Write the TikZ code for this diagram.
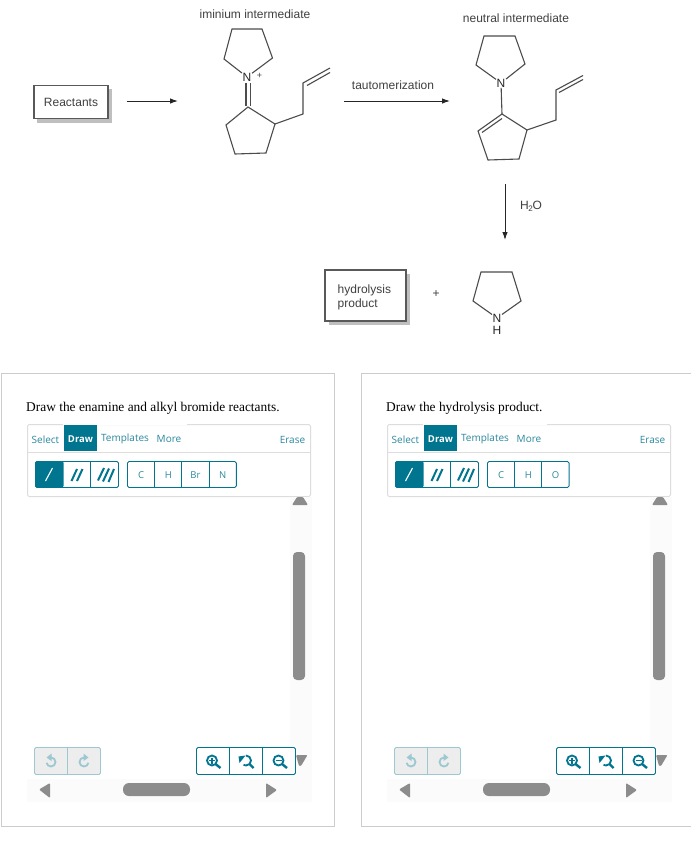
\documentclass[tikz,border=0pt]{standalone}
\usepackage{fontspec}
\setmainfont{Liberation Serif}
\newfontfamily\labelfont{Liberation Sans}
\newfontfamily\uifont{Open Sans}
\usetikzlibrary{arrows.meta}
\definecolor{teal}{HTML}{00758F}
\definecolor{tealtext}{HTML}{2A889F}
\definecolor{paleteal}{HTML}{9CC8D2}
\definecolor{panelgray}{HTML}{CCCCCC}
\definecolor{barline}{HTML}{DDDDDD}
\definecolor{scrollgray}{HTML}{8C8C8C}
\tikzset{
    bond/.style={line width=1.1pt,color=black!70},
    rxnarrow/.style={line width=1pt,color=black!85,-{Latex[length=8pt,width=5.5pt]}},
    chemlabel/.style={font=\labelfont\fontsize{12}{14}\selectfont,text=black!75,inner sep=0},
    atom/.style={font=\labelfont\fontsize{12}{12}\selectfont,text=black!85,inner sep=0.5pt},
    answerbox/.style={draw=black!65,line width=1.1pt,fill=white,inner sep=0},
    boxshadow/.style={fill=black!25,draw=none},
    tablabel/.style={font=\uifont\fontsize{10}{12}\selectfont,text=tealtext,inner sep=0},
    atomlabel/.style={font=\uifont\fontsize{9.5}{11}\selectfont,text=tealtext,inner sep=0},
    toolline/.style={draw=teal,line width=0.9pt},
    fadedline/.style={draw=paleteal,line width=0.9pt},
    icon/.style={color=teal,line width=1.8pt},
}
% title, number of atom buttons, atom list, panel name
\newcommand{\toolpanel}[5]{
\begin{scope}[xshift=#1pt]
    \draw[panelgray,line width=1pt] (1.5,373.5) rectangle (334.5,826.5);
    \node[font=\fontsize{13.4}{16}\selectfont,anchor=west,inner sep=0] (#5title) at (26,408) {#2};
    % toolbar
    \draw[barline,line width=1pt,rounded corners=1.5pt] (27.5,424.5) rectangle (310.5,496.5);
    \draw[barline,line width=1pt] (27.5,452.5) -- (310.5,452.5);
    \draw[white,line width=1.5pt] (63,424.5) -- (187,424.5);
    \fill[teal] (64,425) rectangle (97,451);
    \node[tablabel] (#5select) at (45.5,439.5) {Select};
    \node[tablabel,text=white,font=\uifont\bfseries\fontsize{9.5}{11}\selectfont] (#5draw) at (80.5,439) {Draw};
    \node[tablabel] (#5templates) at (125,438.8) {Templates};
    \node[tablabel] (#5more) at (169,438.8) {More};
    \node[tablabel] (#5erase) at (292.5,439.5) {Erase};
    % bond buttons
    \fill[teal,rounded corners=1.5pt] (35,461) rectangle (63.5,487.5);
    \draw[toolline,rounded corners=1.5pt] (35.5,461.5) rectangle (118.5,487.5);
    \draw[toolline] (90.5,461.5) -- (90.5,487.5);
    \draw[white,line width=1.1pt] (45.5,481) -- (52.5,468);
    \draw[teal,line width=2pt] (71.5,481) -- (77,469) (77,481) -- (82.5,469);
    \draw[teal,line width=2pt] (98,480.5) -- (104,468) (103,481.5) -- (109,468.5) (108.5,482) -- (114,469);
    % atom buttons
    \draw[toolline,rounded corners=1.5pt] (127.5,461.5) rectangle ({127.5+27.2*#3},487.5);
    \foreach \atomname [count=\atomno] in {#4} {
        \node[atomlabel] (#5atom\atomno) at ({127.5+27.2*(\atomno-0.5)},475) {\atomname};
        \ifnum\atomno<#3
            \draw[toolline] ({127.5+27.2*\atomno},461.5) -- ({127.5+27.2*\atomno},487.5);
        \fi
    }
    % scrollbars
    \fill[black!1.5] (290,497) rectangle (312,780);
    \fill[black!1.5] (27,779) rectangle (312,802);
    \fill[scrollgray,rounded corners=1pt] (292,505) -- (297,497) -- (303,497) -- (308,505) -- cycle;
    \fill[scrollgray,rounded corners=4pt] (293,552) rectangle (305,680);
    \fill[scrollgray,rounded corners=1pt] (296,755) -- (307.5,755) -- (301,766) -- (299,766) -- cycle;
    \fill[scrollgray,rounded corners=1pt] (39,789.5) -- (50,783) -- (50,798) -- cycle;
    \fill[scrollgray,rounded corners=6pt] (123,783) rectangle (190,796);
    \fill[scrollgray,rounded corners=1pt] (266,783) -- (277,790) -- (266,798) -- cycle;
    % undo and redo
    \draw[fadedline,fill=black!7,rounded corners=1.5pt] (34.5,747.5) rectangle (100.5,774.5);
    \draw[fadedline] (67.5,747.5) -- (67.5,774.5);
    \draw[paleteal,line width=1.8pt] (51,757.5) arc[start angle=-90,end angle=170,radius=4.5];
    \fill[paleteal] (46.5,757.5) -- (51.5,753.5) -- (51.5,761) -- cycle;
    \draw[paleteal,line width=1.8pt] (84,757.5) arc[start angle=-90,end angle=-350,radius=4.5];
    \fill[paleteal] (88.5,757.5) -- (83.5,753.5) -- (83.5,761) -- cycle;
    % zoom buttons
    \draw[toolline,rounded corners=1.5pt] (196.5,747.5) rectangle (295.5,774.5);
    \draw[toolline] (229.5,747.5) -- (229.5,774.5) (262.5,747.5) -- (262.5,774.5);
    \draw[icon] (212,760.5) circle[radius=5];
    \draw[icon,line width=2.4pt] (215.5,764) -- (220.5,768);
    \draw[icon,line width=1.4pt] (209,760.5) -- (215,760.5) (212,757.5) -- (212,763.5);
    \draw[icon] (246,755.5) arc[start angle=-90,end angle=120,radius=5];
    \fill[teal] (238.5,756.5) -- (245.5,755.5) -- (239.5,763) -- cycle;
    \draw[icon,line width=2.4pt] (249.5,764) -- (253.5,768);
    \draw[icon] (278.5,760.5) circle[radius=5];
    \draw[icon,line width=2.4pt] (282,764) -- (287,768);
    \draw[icon,line width=1.4pt] (275.5,760.5) -- (281.5,760.5);
\end{scope}
}
\begin{document}
\begin{tikzpicture}[x=1pt,y=-1pt]
    \useasboundingbox[fill=white] (0,0) rectangle (691,844);
    % reactants box
    \fill[boxshadow] (37,89) rectangle (111.5,122.5);
    \node[answerbox,chemlabel,minimum width=74pt,minimum height=33pt] (reactants) at (71,102) {Reactants};
    \coordinate (arrowend) at (178,101);
    \draw[rxnarrow,shorten <=18pt] (reactants.east|-arrowend) -- (arrowend);
    % iminium intermediate
    \node[chemlabel] (iminiumlabel) at (255,14) {iminium intermediate};
    \node[atom] (iminiumN) at (247,77) {N};
    \node[chemlabel,font=\labelfont\fontsize{9}{9}\selectfont] (iminiumplus) at (259.5,76) {+};
    \coordinate (ia) at (224,59);
    \coordinate (ib) at (232,29);
    \coordinate (ic) at (262,29);
    \coordinate (id) at (272.5,58);
    \draw[bond] (iminiumN) -- (ia) -- (ib) -- (ic) -- (id) -- (iminiumN);
    \coordinate (ie) at (248,107);
    \coordinate (if) at (275,124);
    \coordinate (ig) at (266,153);
    \coordinate (ih) at (235,154);
    \coordinate (ii) at (226,125);
    \draw[bond] (ie) -- (if) -- (ig) -- (ih) -- (ii) -- cycle;
    \draw[bond] (246,83) -- (246,106) (250.5,83) -- (250.5,106);
    \coordinate (ij) at (303,114);
    \coordinate (ik) at (303,83);
    \coordinate (il) at (330,68);
    \draw[bond] (if) -- (ij) -- (ik) -- (il);
    \draw[bond] (307,85.5) -- (330,72.5);
    % tautomerization
    \node[chemlabel] (tautolabel) at (393,85.5) {tautomerization};
    \coordinate (tautostart) at (344,101);
    \coordinate (tautoend) at (450,101);
    \draw[rxnarrow] (tautostart) -- (tautoend);
    % neutral intermediate
    \node[chemlabel] (neutrallabel) at (516,18.5) {neutral intermediate};
    \node[atom] (neutralN) at (501,83) {N};
    \coordinate (na) at (476,65);
    \coordinate (nb) at (484,36);
    \coordinate (nc) at (515,36);
    \coordinate (nd) at (525,64);
    \draw[bond] (neutralN) -- (na) -- (nb) -- (nc) -- (nd) -- (neutralN);
    \coordinate (ne) at (502,114);
    \coordinate (nf) at (527,130);
    \coordinate (ng) at (519,159);
    \coordinate (nh) at (488,160);
    \coordinate (ni) at (478,131);
    \draw[bond] (neutralN) -- (ne);
    \draw[bond] (ne) -- (nf) -- (ng) -- (nh) -- (ni) -- cycle;
    \draw[bond] (482,132.5) -- (502,118.5);
    \coordinate (nj) at (556,120);
    \coordinate (nk) at (556,90);
    \coordinate (nl) at (583,75.5);
    \draw[bond] (nf) -- (nj) -- (nk) -- (nl);
    \draw[bond] (559,92.5) -- (583,79.5);
    % water step
    \coordinate (waterstart) at (505,184);
    \coordinate (waterend) at (505,240);
    \draw[rxnarrow] (waterstart) -- (waterend);
    \node[chemlabel] (waterlabel) at (531,206.5) {H\kern-0.3pt\raisebox{-2.5pt}{\fontsize{8}{8}\selectfont 2}\kern-0.3pt O};
    % products
    \fill[boxshadow] (329,274) rectangle (409.5,324.5);
    \node[answerbox,minimum width=81pt,minimum height=51pt] (hydrolysis) at (365.5,295.5) {};
    \node[chemlabel,anchor=west,align=left] (hydrolysistext) at (337.5,297.5) {hydrolysis\\product};
    \node[chemlabel] (plus) at (436,294) {+};
    \node[atom] (amineN) at (497,318) {N};
    \node[atom,anchor=north,inner sep=0] (amineH) at (497,326) {H};
    \coordinate (aa) at (473,301);
    \coordinate (ab) at (481,272);
    \coordinate (ac) at (512,272);
    \coordinate (ad) at (521,301);
    \draw[bond] (amineN) -- (aa) -- (ab) -- (ac) -- (ad) -- (amineN);
    % drawing panels
    \toolpanel{0}{Draw the enamine and alkyl bromide reactants.}{4}{C,H,Br,N}{left}
    \toolpanel{360}{Draw the hydrolysis product.}{3}{C,H,O}{right}
\end{tikzpicture}
\end{document}
